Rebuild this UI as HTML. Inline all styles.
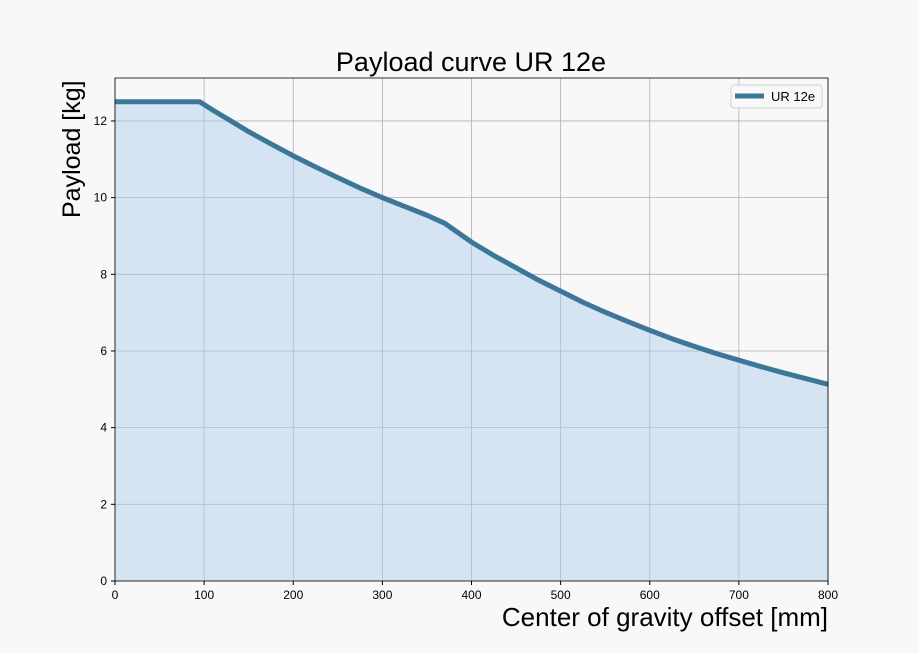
<!DOCTYPE html>
<html><head><meta charset="utf-8">
<style>
body{margin:0;background:#f8f8f8;}
svg{display:block;font-family:"Liberation Sans","DejaVu Sans",sans-serif;}
</style></head>
<body>
<svg id="chart" width="919" height="653">
<rect width="919" height="653" fill="#f8f8f8"/>
<g id="grid"></g>
<g id="area"></g>
<g id="axes"></g>
<text x="471" y="71" font-size="27" text-anchor="middle" fill="#000">Payload curve UR 12e</text>
<text x="828" y="626" font-size="26" text-anchor="end" fill="#000">Center of gravity offset [mm]</text>
<text transform="translate(80,218) rotate(-90)" font-size="25" fill="#000">Payload [kg]</text>
<g>
<rect x="731" y="85" width="91" height="23" rx="3" fill="#f8f8f8" stroke="#d0d0d0"/>
<line x1="735" y1="96" x2="764" y2="96" stroke="#3c7699" stroke-width="5"/>
<text x="771" y="101" font-size="13" fill="#000">UR 12e</text>
</g>
</svg>
<script>
const xValues=[0,95,110,130,150,175,200,225,250,275,300,325,350,370,400,425,450,475,500,525,550,575,600,625,650,675,700,725,750,775,800];
const yValues=[12.5,12.5,12.28,12.0,11.72,11.4,11.09,10.8,10.52,10.25,10.0,9.77,9.54,9.33,8.84,8.49,8.17,7.85,7.56,7.27,7.01,6.77,6.54,6.32,6.12,5.93,5.76,5.59,5.43,5.28,5.13];
const xTicks=[0,100,200,300,400,500,600,700,800];
const yTicks=[0,2,4,6,8,10,12];
const L=115,R=828,T=78,B=581,XMAX=800,YMAX=13.12;
const sx=v=>L+v/XMAX*(R-L), sy=v=>B-v/YMAX*(B-T);
const NS='http://www.w3.org/2000/svg';
function mk(tag,attrs,parent){const e=document.createElementNS(NS,tag);for(const k in attrs)e.setAttribute(k,attrs[k]);parent.appendChild(e);return e;}
const grid=document.getElementById('grid'),area=document.getElementById('area'),axes=document.getElementById('axes');
xTicks.forEach(t=>{
 const g=mk('line',{x1:sx(t),x2:sx(t),y1:T,y2:B,stroke:'#b0b0b0','stroke-width':0.8},grid);
 
 
 const tk=mk('line',{x1:sx(t),x2:sx(t),y1:B,y2:B+4,stroke:'#000'},axes);
 
 
 const tx=mk('text',{x:sx(t),y:B+18,'font-size':12,'text-anchor':'middle'},axes);
 tx.textContent=t;
 
 
});
yTicks.forEach(t=>{
 const g=mk('line',{x1:L,x2:R,y1:sy(t),y2:sy(t),stroke:'#b0b0b0','stroke-width':0.8},grid);
 
 
 const tk=mk('line',{x1:L-4,x2:L,y1:sy(t),y2:sy(t),stroke:'#000'},axes);
 
 
 const tx=mk('text',{x:L-8,y:sy(t)+4,'font-size':12,'text-anchor':'end'},axes);
 tx.textContent=t;
 
 
});
const pts=xValues.map((x,i)=>sx(x)+','+sy(yValues[i]));
const fill=mk('polygon',{points:sx(xValues[0])+','+B+' '+pts.join(' ')+' '+sx(xValues[xValues.length-1])+','+B,fill:'#a9cdee','fill-opacity':0.45},area);


const line=mk('polyline',{points:pts.join(' '),fill:'none',stroke:'#3c7699','stroke-width':5,'stroke-linejoin':'round'},area);


const frame=mk('rect',{x:L,y:T,width:R-L,height:B-T,fill:'none',stroke:'#000','stroke-width':0.8},axes);


</script>
</body></html>
